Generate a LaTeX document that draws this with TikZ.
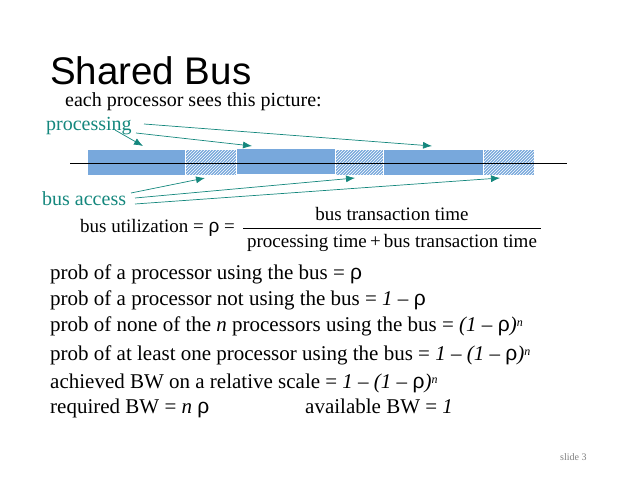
\documentclass[tikz,border=0pt]{standalone}
\usepackage{fontspec}
\setmainfont{Liberation Serif}
\newfontfamily\arial{Liberation Sans}
\usetikzlibrary{patterns,arrows.meta}
\definecolor{teal1}{RGB}{20,135,125}
\definecolor{barblue}{RGB}{120,168,220}
\tikzset{pbar/.style={fill=barblue,draw=none},
bbar/.style={fill=barblue,draw=none,postaction={pattern=north east lines,pattern color=white}},
tarr/.style={teal1,-{Latex[length=9pt,width=7pt]},line width=0.7pt},
body/.style={anchor=base west,inner sep=0,font=\fontsize{21}{24}\selectfont}}
\newcommand{\rh}{{\arial ρ}}
\newcommand{\supn}{\raisebox{0.6ex}{\fontsize{12}{13}\selectfont\textit{n}}}
\begin{document}
\begin{tikzpicture}[x=1pt,y=-1pt]
\useasboundingbox (0,0) rectangle (638,478);
\node[anchor=base west,inner sep=0,font=\arial\fontsize{38.5}{42}\selectfont] (title) at (50,85) {Shared Bus};
\node[anchor=base west,inner sep=0,font=\fontsize{20}{22}\selectfont] (sub) at (65,107) {each processor sees this picture:};
\path[pbar] (88,150) rectangle (185,175);
\path[bbar] (186,150) rectangle (236,175);
\path[pbar] (237,149) rectangle (335,174);
\path[bbar] (336,150) rectangle (383,175);
\path[pbar] (384,150) rectangle (483,175);
\path[bbar] (484,150) rectangle (534,175);
\coordinate (la) at (70,163); \coordinate (lb) at (567,163);
\draw[line width=0.7pt] (la) -- (lb);
\node[anchor=base west,inner sep=0,text=teal1,font=\fontsize{20}{22}\selectfont] (proc) at (46,131) {processing};
\node[anchor=base west,inner sep=0,text=teal1,font=\fontsize{20}{22}\selectfont] (bus) at (42,206) {bus access};
\coordinate (p1) at (143,146); \coordinate (p2) at (252,146); \coordinate (p3) at (432,146);
\coordinate (b1) at (205,178); \coordinate (b2) at (355,178); \coordinate (b3) at (500,178);
\draw[tarr] (115,130) -- (p1);
\draw[tarr] (136,133) -- (p2);
\draw[tarr] (144,124) -- (p3);
\draw[tarr] (131,193) -- (b1);
\draw[tarr] (135,198) -- (b2);
\draw[tarr] (135,204) -- (b3);
\node[anchor=base west,inner sep=0,font=\fontsize{19}{21}\selectfont] (bu) at (80,233) {bus utilization = \rh{} =};
\node[anchor=base,inner sep=0,font=\fontsize{19}{21}\selectfont] (num) at (392,221) {bus transaction time};
\node[anchor=base,inner sep=0,font=\fontsize{19}{21}\selectfont] (den) at (392,248) {processing time\,+\,bus transaction time};
\draw[line width=0.6pt] (243,228) -- (541,228);
\node[body] (l1) at (50,280) {prob of a processor using the bus = \rh};
\node[body] (l2) at (50,306) {prob of a processor not using the bus = \textit{1 – }\rh};
\node[body] (l3) at (50,332) {prob of none of the \textit{n} processors using the bus = \textit{(1 – }\rh\textit{)}\supn};
\node[body] (l4) at (50,361) {prob of at least one processor using the bus = \textit{1 – (1 – }\rh\textit{)}\supn};
\node[body] (l5) at (50,389) {achieved BW on a relative scale = \textit{1 – (1 – }\rh\textit{)}\supn};
\node[body] (l6) at (50,414) {required BW = \textit{n} \rh};
\node[body] (l7) at (305,414) {available BW = \textit{1}};
\node[anchor=base west,inner sep=0,text=gray,font=\fontsize{10}{11}\selectfont] (sl) at (560,461) {slide 3};
\end{tikzpicture}
\end{document}
